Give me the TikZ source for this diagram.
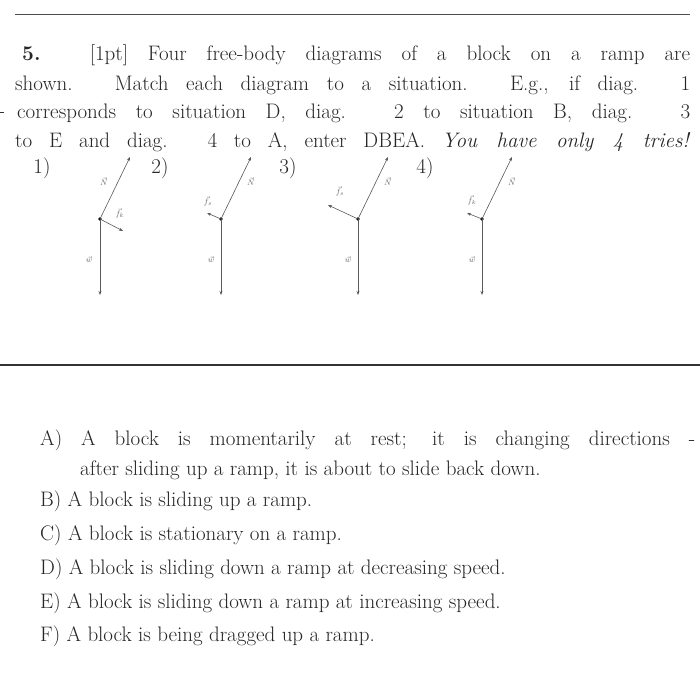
\documentclass[tikz,border=0pt]{standalone}
\usetikzlibrary{arrows.meta}
\tikzset{
  txt/.style={anchor=west, inner sep=0pt, font=\fontsize{21}{26}\selectfont, text=black!85},
  vec/.style={draw=black!65, line width=0.6pt, -{Stealth[length=4pt,width=3pt]}},
  vlab/.style={inner sep=0pt, font=\fontsize{8}{9}\selectfont, text=black!60},
  num/.style={inner sep=0pt, font=\fontsize{21}{26}\selectfont, text=black!85}
}
\begin{document}
\begin{tikzpicture}[x=1pt,y=-1pt]
\useasboundingbox (0,0) rectangle (700,677);
\fill[white] (0,0) rectangle (700,677);
\draw[black!70, line width=1pt] (15,15) -- (690,15);
\draw[black!80, line width=1.2pt] (0,365) -- (700,365);
\draw[black!80, line width=1pt] (0,112) -- (4,112);
\node[txt] (l1) at (22,55) {\makebox[668pt][s]{\textbf{5.} [1pt] Four free-body diagrams of a block on a ramp are}};
\node[txt] (l2) at (15,85) {\makebox[675pt][s]{shown. Match each diagram to a situation. E.g., if diag. 1}};
\node[txt] (l3) at (17,113) {\makebox[673pt][s]{corresponds to situation D, diag. 2 to situation B, diag. 3}};
\node[txt] (l4) at (15,142) {\makebox[675pt][s]{to E and diag. 4 to A, enter DBEA. \textit{You have only 4 tries!}}};
\node[num] (n1) at (42,168) {1)};
\node[num] (n2) at (160,168) {2)};
\node[num] (n3) at (288,168) {3)};
\node[num] (n4) at (425,168) {4)};
\fill (100,219) circle (1.8) coordinate (d1);
\coordinate (N1) at (130,157); \coordinate (F1) at (123,231); \coordinate (W1) at (100,295);
\draw[vec] (d1) -- (N1); \draw[vec] (d1) -- (F1); \draw[vec] (d1) -- (W1);
\node[vlab] (ln1) at (104,182) {$\vec N$};
\node[vlab] (lf1) at (120,213) {$\vec f_k$};
\node[vlab] (lw1) at (89,260) {$\vec w$};
\fill (221,219) circle (1.8) coordinate (d2);
\coordinate (N2) at (251,157); \coordinate (F2) at (207,213); \coordinate (W2) at (221,295);
\draw[vec] (d2) -- (N2); \draw[vec] (d2) -- (F2); \draw[vec] (d2) -- (W2);
\node[vlab] (ln2) at (251,182) {$\vec N$};
\node[vlab] (lf2) at (208,201) {$\vec f_s$};
\node[vlab] (lw2) at (211,260) {$\vec w$};
\fill (358,219) circle (1.8) coordinate (d3);
\coordinate (N3) at (388,157); \coordinate (F3) at (328,205); \coordinate (W3) at (358,295);
\draw[vec] (d3) -- (N3); \draw[vec] (d3) -- (F3); \draw[vec] (d3) -- (W3);
\node[vlab] (ln3) at (388,182) {$\vec N$};
\node[vlab] (lf3) at (340,191) {$\vec f_s$};
\node[vlab] (lw3) at (348,260) {$\vec w$};
\fill (482,219) circle (1.8) coordinate (d4);
\coordinate (N4) at (512,157); \coordinate (F4) at (467,213); \coordinate (W4) at (482,295);
\draw[vec] (d4) -- (N4); \draw[vec] (d4) -- (F4); \draw[vec] (d4) -- (W4);
\node[vlab] (ln4) at (512,182) {$\vec N$};
\node[vlab] (lf4) at (472,200) {$\vec f_k$};
\node[vlab] (lw4) at (472,260) {$\vec w$};
\node[txt] (oa) at (40,440) {\makebox[655pt][s]{A) A block is momentarily at rest; it is changing directions -}};
\node[txt] (oa2) at (80,470) {after sliding up a ramp, it is about to slide back down.};
\node[txt] (ob) at (40,501) {B) A block is sliding up a ramp.};
\node[txt] (oc) at (40,535) {C) A block is stationary on a ramp.};
\node[txt] (od) at (40,569) {D) A block is sliding down a ramp at decreasing speed.};
\node[txt] (oe) at (40,603) {E) A block is sliding down a ramp at increasing speed.};
\node[txt] (of) at (40,636) {F) A block is being dragged up a ramp.};
\end{tikzpicture}
\end{document}
